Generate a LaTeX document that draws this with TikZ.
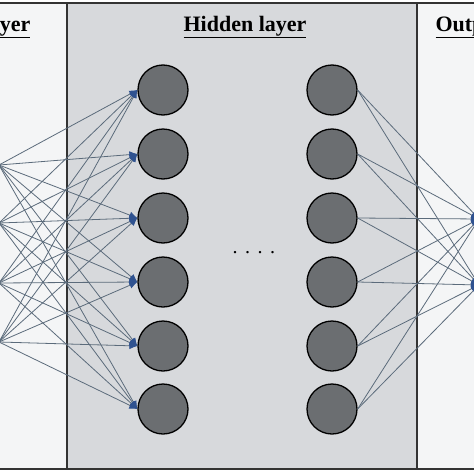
\documentclass[tikz,border=0pt]{standalone}
\usepackage{fontspec}
\setmainfont{Liberation Serif}
\usetikzlibrary{arrows.meta}
\definecolor{sidepanel}{HTML}{F4F5F6}
\definecolor{midpanel}{HTML}{D7D9DC}
\definecolor{neuron}{HTML}{6B6E71}
\definecolor{wire}{HTML}{5B6B7B}
\definecolor{tipblue}{HTML}{2F5290}
\begin{document}
\begin{tikzpicture}[x=1pt, y=-1pt, >={Latex[length=8pt,width=7pt,color=tipblue]},
	unit/.style={draw, circle, line width=1.3pt, fill=neuron, minimum size=50pt, inner sep=0pt},
	title/.style={font=\bfseries\fontsize{22}{24}\selectfont},
	link/.style={->, wire, line width=0.8pt}]
		\useasboundingbox (0,0) rectangle (474,474);
		\clip (0,0) rectangle (474,474);
		\fill[white] (0,0) rectangle (474,474);
		\fill[sidepanel] (0,3) rectangle (474,469);
		\fill[midpanel] (67,3) rectangle (417,469);
		\draw[line width=1.5pt, black!80] (-5,3)--(480,3) (-5,469)--(480,469) (67,3)--(67,469) (417,3)--(417,469);
		\node (TI)[title, anchor=east] at (34,27) {\underline{Input layer}};
		\node (TH)[title] at (245,27) {\underline{Hidden layer}};
		\node (TO)[title, anchor=west] at (432,27) {\underline{Output layer}};
		\foreach \y [count=\i] in {165,223,283,342}
		{
			\coordinate (I\i) at (-1,\y);
		}
		\foreach \y [count=\i] in {90,154,218,282,346,409}
		{
			\node (H\i)[unit] at (163,\y) {};
			\node (G\i)[unit] at (332,\y) {};
		}
		\coordinate (O1) at (479,219);
		\coordinate (O2) at (479,285);
		\node (dots)[anchor=base west, font=\fontsize{20}{20}\selectfont] at (229,253) {.\hspace{7.5pt}.\hspace{7.5pt}.\hspace{7.5pt}.};
		\foreach \a in {1,...,4}
		{
			\foreach \b in {1,...,6}
			{
				\draw[link](I\a)--(H\b.west);
			}
		}
		\foreach \b in {1,...,6}
		{
			\foreach \c in {1,2}
			{
				\draw[link](G\b.east)--(O\c);
			}
		}
	\end{tikzpicture}
\end{document}
